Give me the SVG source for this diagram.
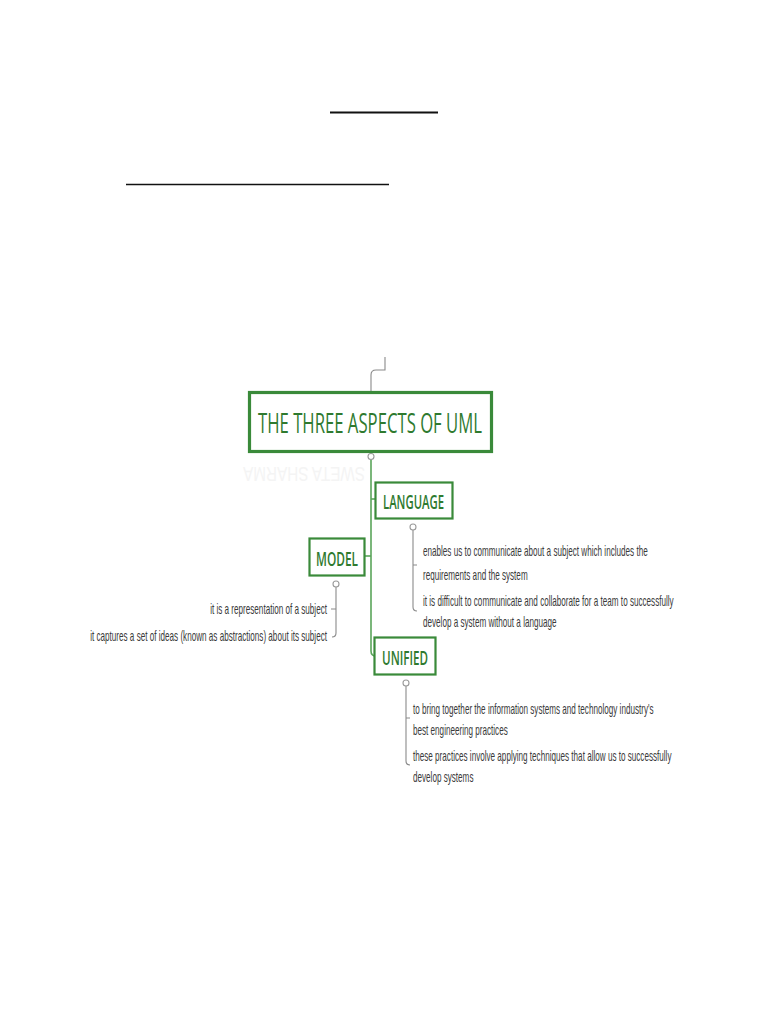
<svg xmlns="http://www.w3.org/2000/svg" width="768" height="1024" viewBox="0 0 768 1024">
<style>
.box{fill:#fff;stroke:#3a8a3a;stroke-width:2.2}
.title{fill:#fff;stroke:#3a8a3a;stroke-width:3.2}
.lbl{font-family:"Open Sans","Liberation Sans",sans-serif;fill:#2f7a2f;font-weight:600}
.ttl{font-family:"Open Sans","Liberation Sans",sans-serif;fill:#2f7a2f;font-weight:400}
.note{font-family:"Liberation Sans",Arial,sans-serif;font-size:14px;fill:#3a3a3a}
.trunk{fill:none;stroke:#5aa55a;stroke-width:1.6}
.br{fill:none;stroke:#8a8a8a;stroke-width:1.1}
.dot{fill:#fff;stroke:#9a9a9a;stroke-width:1.1}
.rule{stroke:#111;fill:none}
</style>
<rect width="768" height="1024" fill="#fff"/>
<line class="rule" x1="330" y1="112.5" x2="438" y2="112.5" stroke-width="2.2"/>
<line class="rule" x1="126" y1="184.5" x2="389" y2="184.5" stroke-width="1.6"/>

<text x="304" y="481" transform="rotate(180 304 474)" text-anchor="middle" font-family="Liberation Sans, sans-serif" font-size="20" fill="#f4f4f4" textLength="122" lengthAdjust="spacingAndGlyphs">SWETA SHARMA</text>

<g id="connectors">
<path class="br" d="M371,392 V375 Q371,370 376,370 H385 V357"/>
<path class="trunk" d="M371,460 V651 Q371,656 376,656"/>
<path class="trunk" d="M371,499 H376"/>
<path class="trunk" d="M365,556 H371"/>
<path class="br" d="M413,530 V607 Q413,611 417,611 M413,565 H417"/>
<path class="br" d="M336,587 V633 Q336,637 332,637 M336,609 H331"/>
<path class="br" d="M406,686 V761 Q406,765 410,765 M406,718 H410"/>
<circle class="dot" cx="371" cy="456.5" r="3"/>
<circle class="dot" cx="413" cy="527" r="3"/>
<circle class="dot" cx="336" cy="584" r="3"/>
<circle class="dot" cx="406" cy="683" r="3"/>
</g>

<g id="title">
<rect class="title" x="249.5" y="392.5" width="242" height="59"/>
<text class="ttl" x="258" y="433" font-size="28" textLength="224" lengthAdjust="spacingAndGlyphs">THE THREE ASPECTS OF UML</text>
</g>

<g id="language">
<rect class="box" x="375.5" y="482.5" width="77" height="36"/>
<text class="lbl" x="383" y="509" font-size="19" textLength="61" lengthAdjust="spacingAndGlyphs">LANGUAGE</text>
</g>

<g id="model">
<rect class="box" x="309.5" y="538.5" width="55" height="37"/>
<text class="lbl" x="316" y="566" font-size="20" textLength="42" lengthAdjust="spacingAndGlyphs">MODEL</text>
</g>

<g id="unified">
<rect class="box" x="374.5" y="637.5" width="61" height="37"/>
<text class="lbl" x="382" y="665" font-size="20" textLength="46" lengthAdjust="spacingAndGlyphs">UNIFIED</text>
</g>

<g id="language-notes" transform="translate(423,0) scale(0.58,1)">
<text class="note" x="0" y="556">enables us to communicate about a subject which includes the</text>
<text class="note" x="0" y="580">requirements and the system</text>
<text class="note" x="0" y="606">it is difficult to communicate and collaborate for a team to successfully</text>
<text class="note" x="0" y="627">develop a system without a language</text>
</g>

<g id="model-notes" transform="translate(327,0) scale(0.58,1)">
<text class="note" x="0" y="614" text-anchor="end">it is a representation of a subject</text>
<text class="note" x="0" y="641" text-anchor="end">it captures a set of ideas (known as abstractions) about its subject</text>
</g>

<g id="unified-notes" transform="translate(413,0) scale(0.58,1)">
<text class="note" x="0" y="714">to bring together the information systems and technology industry's</text>
<text class="note" x="0" y="735">best engineering practices</text>
<text class="note" x="0" y="761">these practices involve applying techniques that allow us to successfully</text>
<text class="note" x="0" y="782">develop systems</text>
</g>
</svg>
